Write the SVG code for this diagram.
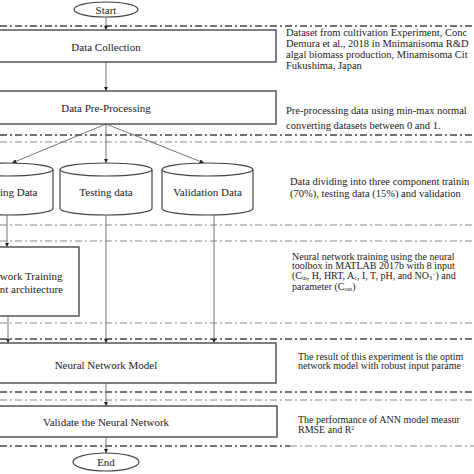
<svg xmlns="http://www.w3.org/2000/svg" width="474" height="474" viewBox="0 0 474 474">
<defs>
<style>
.box{fill:#fff;stroke:#555;stroke-width:1.5}
.cyl{fill:#fff;stroke:#444;stroke-width:1.2}
.lbl{font-family:"Liberation Serif","Times New Roman",serif;font-size:11px;fill:#222;text-anchor:middle}
.note{font-family:"Liberation Serif","Times New Roman",serif;font-size:10.5px;fill:#222}
.note2{font-family:"Liberation Serif","Times New Roman",serif;font-size:10px;fill:#222}
.dd{stroke:#444;stroke-width:1.3;stroke-dasharray:7 3 2 3;fill:none}
.dl{stroke:#888;stroke-width:1;stroke-dasharray:7 3 2 3;fill:none}
.conn{stroke:#666;stroke-width:0.9;fill:none}
</style>
<marker id="ah" viewBox="0 0 8 8" refX="8" refY="4" markerWidth="4.5" markerHeight="4.5" orient="auto" markerUnits="userSpaceOnUse">
<path d="M0,0 L8,4 L0,8 z" fill="#222"/>
</marker>
</defs>
<rect width="474" height="474" fill="#fff"/>

<g id="swimlanes">
<line class="dd" x1="0" y1="26" x2="474" y2="26"/>
<line class="dd" x1="0" y1="135" x2="474" y2="135"/>
<line class="dl" x1="0" y1="142" x2="474" y2="142"/>
<line class="dl" x1="0" y1="225" x2="474" y2="225"/>
<line class="dl" x1="0" y1="241" x2="474" y2="241"/>
<line class="dl" x1="0" y1="323" x2="474" y2="323"/>
<line class="dd" x1="0" y1="339" x2="474" y2="339"/>
<line class="dd" x1="0" y1="392" x2="474" y2="392"/>
<line class="dl" x1="0" y1="400" x2="474" y2="400"/>
<line class="dd" x1="0" y1="446" x2="290" y2="446"/>
<line class="dl" x1="290" y1="446" x2="474" y2="446"/>
</g>

<g id="connectors">
<line class="conn" x1="106" y1="17" x2="106" y2="30" marker-end="url(#ah)"/>
<line class="conn" x1="106" y1="62" x2="106" y2="91" marker-end="url(#ah)"/>
<line class="conn" x1="106" y1="124" x2="12" y2="163" marker-end="url(#ah)"/>
<line class="conn" x1="106" y1="124" x2="106" y2="163" marker-end="url(#ah)"/>
<line class="conn" x1="106" y1="124" x2="204" y2="163" marker-end="url(#ah)"/>
<line class="conn" x1="7" y1="215" x2="7" y2="247" marker-end="url(#ah)"/>
<line class="conn" x1="8" y1="316" x2="8" y2="343" marker-end="url(#ah)"/>
<line class="conn" x1="106" y1="215" x2="106" y2="343" marker-end="url(#ah)"/>
<line class="conn" x1="214" y1="215" x2="214" y2="343" marker-end="url(#ah)"/>
<line class="conn" x1="106" y1="383" x2="106" y2="406" marker-end="url(#ah)"/>
<line class="conn" x1="106" y1="437" x2="106" y2="453" marker-end="url(#ah)"/>
</g>

<g id="start">
<ellipse cx="106" cy="9.5" rx="32" ry="7.5" fill="#fff" stroke="#444" stroke-width="1.2"/>
<text class="lbl" x="106" y="13.5" font-size="10.5">Start</text>
</g>

<g id="data-collection">
<rect class="box" x="-64" y="30" width="340" height="32"/>
<text class="lbl" x="106" y="50.5">Data Collection</text>
</g>

<g id="data-preprocessing">
<rect class="box" x="-64" y="91" width="340" height="33"/>
<text class="lbl" x="106" y="111.5">Data Pre-Processing</text>
</g>

<g id="training-data">
<path class="cyl" d="M-39,169.5 L-39,208.5 A46,6.5 0 0 0 53,208.5 L53,169.5"/>
<ellipse class="cyl" cx="7" cy="169.5" rx="46" ry="6.5"/>
<text class="lbl" x="37.5" y="196" style="text-anchor:end">ing Data</text>
</g>

<g id="testing-data">
<path class="cyl" d="M60,169.5 L60,208.5 A46,6.5 0 0 0 152,208.5 L152,169.5"/>
<ellipse class="cyl" cx="106" cy="169.5" rx="46" ry="6.5"/>
<text class="lbl" x="106" y="196">Testing data</text>
</g>

<g id="validation-data">
<path class="cyl" d="M162,169.5 L162,208.5 A45.5,6.5 0 0 0 253,208.5 L253,169.5"/>
<ellipse class="cyl" cx="207.5" cy="169.5" rx="45.5" ry="6.5"/>
<text class="lbl" x="207.5" y="196">Validation Data</text>
</g>

<g id="network-training">
<rect class="box" x="-65" y="247" width="144" height="69"/>
<text class="lbl" x="62.5" y="280" style="text-anchor:end">work Training</text>
<text class="lbl" x="63" y="293" style="text-anchor:end">nt architecture</text>
</g>

<g id="neural-network-model">
<rect class="box" x="-64" y="343" width="340" height="40"/>
<text class="lbl" x="106" y="368.5">Neural Network Model</text>
</g>

<g id="validate">
<rect class="box" x="-64" y="406" width="341" height="31"/>
<text class="lbl" x="106" y="425.5">Validate  the Neural Network</text>
</g>

<g id="end">
<ellipse cx="106" cy="462" rx="33" ry="9" fill="#fff" stroke="#444" stroke-width="1.2"/>
<text class="lbl" x="106" y="466" font-size="10.5">End</text>
</g>

<g id="notes">
<text class="note" x="286" y="36">Dataset from cultivation Experiment, Conc</text>
<text class="note" x="286" y="47">Demura et al., 2018  in Mnimanisoma R&amp;D</text>
<text class="note" x="286" y="58">algal  biomass production, Minamisoma Cit</text>
<text class="note" x="286" y="68.5">Fukushima, Japan</text>

<text class="note" x="286" y="114">Pre-processing data using min-max normal</text>
<text class="note" x="286" y="128.5">converting datasets between 0 and 1.</text>

<text class="note" x="290" y="185">Data dividing into three component trainin</text>
<text class="note" x="290" y="197">(70%), testing data (15%) and validation</text>

<text class="note2" x="292" y="259.5">Neural network training using the neural</text>
<text class="note2" x="292" y="269">toolbox in MATLAB 2017b with 8 input</text>
<text class="note2" x="292" y="278.5">(C<tspan font-size="6" dy="1.5">in</tspan><tspan dy="-1.5">, H, HRT, A</tspan><tspan font-size="6" dy="1.5">c</tspan><tspan dy="-1.5">, I, T, pH, and NO</tspan><tspan font-size="6" dy="1.5">3</tspan><tspan font-size="6" dy="-4.5">−</tspan><tspan dy="3">) and</tspan></text>
<text class="note2" x="292" y="289.5">parameter (C<tspan font-size="6" dy="1.5">out</tspan><tspan dy="-1.5">)</tspan></text>

<text class="note2" x="298" y="359.5">The result of this experiment is the optim</text>
<text class="note2" x="298" y="369">network model with robust input parame</text>

<text class="note2" x="298" y="423">The performance of ANN model measur</text>
<text class="note2" x="298" y="432.5">RMSE and R<tspan font-size="6" dy="-3">2</tspan></text>
</g>
</svg>
